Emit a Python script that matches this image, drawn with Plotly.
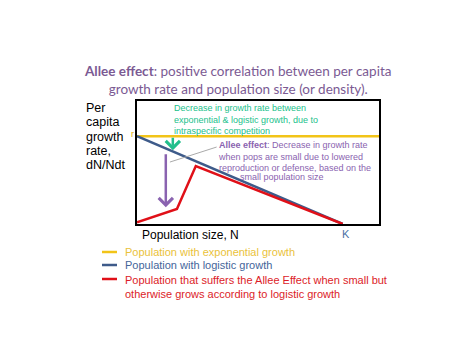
import plotly.graph_objects as go

# ---- data (x: population size, 0..100 ; y: per capita growth rate, r = 1) ----
r = 1.0
K = 85.0
exp_x = [0, 100]
exp_y = [r, r]
log_x = [0, K]
log_y = [r, 0]
allee_x = [0, 16.5, 24.3, K]
allee_y = [0.02, 0.17, 0.66, 0]

ylabel_lines = ["Per", "capita", "growth", "rate,", "dN/Ndt"]
legend_labels = [
    "Population with exponential growth",
    "Population with logistic growth",
    "Population that suffers the Allee Effect when small but<br>otherwise grows according to logistic growth",
]

YEL = "#f2c418"
BLU = "#3e5b8a"
RED = "#e01018"
GRN = "#22bf8c"
PUR = "#8a63b0"

W, H = 474, 355
x0p, x1p = 137, 379
y0p, y1p = 224, 101

fig = go.Figure()
fig.add_trace(go.Scatter(x=exp_x, y=exp_y, mode="lines", line=dict(color=YEL, width=2.5),
                         cliponaxis=False, showlegend=False))
fig.add_trace(go.Scatter(x=log_x, y=log_y, mode="lines", line=dict(color=BLU, width=2.5),
                         showlegend=False))
fig.add_trace(go.Scatter(x=allee_x, y=allee_y, mode="lines", line=dict(color=RED, width=2.5),
                         showlegend=False))

fig.update_layout(
    width=W, height=H, margin=dict(l=0, r=0, t=0, b=0),
    paper_bgcolor="white", plot_bgcolor="white",
    xaxis=dict(domain=[x0p / W, x1p / W], range=[0, 100], showgrid=False, zeroline=False,
               showticklabels=False, ticks="", showline=True, mirror=True,
               linecolor="black", linewidth=2),
    yaxis=dict(domain=[(H - y0p) / H, (H - y1p) / H], range=[0, 1.4], showgrid=False,
               zeroline=False, showticklabels=False, ticks="", showline=True, mirror=True,
               linecolor="black", linewidth=2),
    font=dict(family="Liberation Sans, Arial, sans-serif"),
)

# gray pointer line
fig.add_shape(type="line", xref="x", yref="y", x0=13.6, y0=0.705, x1=32.9, y1=0.876,
              line=dict(color="#aaaaaa", width=1))

# arrows
fig.add_annotation(x=14.8, y=0.84, ax=14.8, ay=1.0, xref="x", yref="y", axref="x", ayref="y",
                   showarrow=True, arrowhead=4, arrowsize=1.1, arrowwidth=2.5, arrowcolor=GRN, text="")
fig.add_annotation(x=11.9, y=0.19, ax=11.9, ay=0.81, xref="x", yref="y", axref="x", ayref="y",
                   showarrow=True, arrowhead=4, arrowsize=1.1, arrowwidth=2.5, arrowcolor=PUR, text="")

def px(xp, yp):
    return xp / W, 1 - yp / H

def ann(text, xp, yp, size, color, xanchor="left", yanchor="middle", align="left", family=None):
    x, y = px(xp, yp)
    f = dict(size=size, color=color)
    if family:
        f["family"] = family
    fig.add_annotation(x=x, y=y, xref="paper", yref="paper", text=text, showarrow=False,
                       xanchor=xanchor, yanchor=yanchor, align=align, font=f)

# title
ann("<b>Allee effect</b>: positive correlation between per capita<br>growth rate and population size (or density).",
    237, 80, 13.5, "#7b5a93", xanchor="center", align="center", family="Lato, Open Sans, sans-serif")

# y-axis label
for i, t in enumerate(ylabel_lines):
    ann(t, 84, 108 + i * 14.3, 12.5, "black")
ann("r", 132, 134, 9, "#e0a800", xanchor="center")
ann("Population size, N", 140, 235, 12, "black")
ann("K", 346, 234, 11, "#4a6fa5", xanchor="center")

# green note
ann("Decrease in growth rate between<br>exponential &amp; logistic growth, due to<br>intraspecific competition",
    172, 119, 9, GRN)
# purple note
ann("<b>Allee effect</b>: Decrease in growth rate<br>when pops are small due to lowered<br>reproduction or defense, based on the",
    216, 156, 9, PUR)
ann("small population size", 282, 177, 9, PUR, xanchor="center")

# legend
leg_colors = [YEL, BLU, RED]
leg_text_colors = ["#eac23a", "#44659a", "#dc1c28"]
leg_y = [252, 265, 279]
for c, tc, yy, lab in zip(leg_colors, leg_text_colors, leg_y, legend_labels):
    fig.add_shape(type="line", xref="paper", yref="paper", x0=102 / W, x1=117 / W,
                  y0=1 - yy / H, y1=1 - yy / H, line=dict(color=c, width=2.5))
    ann(lab, 123, yy, 11, tc, yanchor="top" if "<br>" in lab else "middle")

# fix the two-line legend entry anchor
fig.layout.annotations[-1].update(y=1 - (279 - 7) / H)

fig.write_html("out.html", config={"displayModeBar": False},
               post_script="document.body.style.margin='0';document.body.style.overflow='hidden';")
